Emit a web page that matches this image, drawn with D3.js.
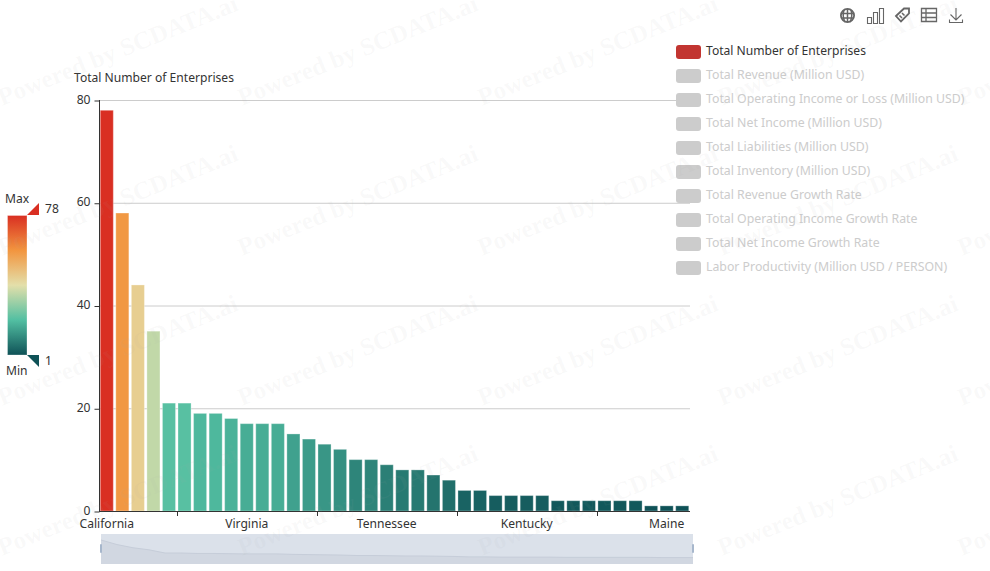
<!DOCTYPE html>
<html>
<head>
<meta charset="utf-8">
<script src="https://cdn.jsdelivr.net/npm/d3@7"></script>
<style>
  body { margin: 0; background: #fff; }
  text { font-family: "Noto Sans", sans-serif; }
</style>
</head>
<body>
<div id="chart"></div>
<script>
// valores
const barValues = [78, 58, 44, 35, 21, 21, 19, 19, 18, 17, 17, 17, 15, 14, 13, 12, 10, 10, 9, 8, 8, 7, 6, 4, 4, 3, 3, 3, 3, 2, 2, 2, 2, 2, 2, 1, 1, 1];
const labelIndexes = [0, 9, 18, 27, 36];
const labelNames = ["California", "Virginia", "Tennessee", "Kentucky", "Maine"];
const tickIndexes = [5, 14, 23, 32];
const yTicks = [0, 20, 40, 60, 80];
const legendNames = [
  "Total Number of Enterprises",
  "Total Revenue (Million USD)",
  "Total Operating Income or Loss (Million USD)",
  "Total Net Income (Million USD)",
  "Total Liabilities (Million USD)",
  "Total Inventory (Million USD)",
  "Total Revenue Growth Rate",
  "Total Operating Income Growth Rate",
  "Total Net Income Growth Rate",
  "Labor Productivity (Million USD / PERSON)",
];
const rampStops = [0, 0.25, 0.5, 0.75, 1];
const rampColors = ["#0f5257", "#52bfa2", "#e3dfaa", "#f2953f", "#d92f22"];

const width = 990;
const height = 571;
const fontSize = 12.1;
const legendFontSize = 12.3;

const svg = d3
  .select("#chart")
  .append("svg")
  .attr("width", width)
  .attr("height", height)
  .style("display", "block");

const defs = svg.append("defs");

// Escalas
const x = d3
  .scaleBand()
  .domain(d3.range(barValues.length))
  .range([99, 690])
  .paddingInner(0.16)
  .paddingOuter(0.08);
const y = d3.scaleLinear().domain([0, 80]).range([511, 100]);
const color = d3
  .scaleLinear()
  .domain(rampStops.map((s) => 1 + s * 77))
  .range(rampColors);

// Grade
svg
  .append("g")
  .selectAll("line")
  .data(yTicks.slice(1))
  .join("line")
  .attr("x1", 99)
  .attr("x2", 690)
  .attr("y1", (d) => y(d) + 0.5)
  .attr("y2", (d) => y(d) + 0.5)
  .attr("stroke", "#ccc");

// Barras
svg
  .append("g")
  .selectAll("rect")
  .data(barValues)
  .join("rect")
  .attr("x", (d, i) => x(i))
  .attr("y", (d) => y(d))
  .attr("width", x.bandwidth())
  .attr("height", (d) => y(0) - y(d))
  .attr("fill", (d) => color(d))
  .attr("stroke", "#fff")
  .attr("stroke-opacity", 0.3);

// Eixos
const step = x.step();
const yAxis = d3.axisLeft(y).tickValues(yTicks).tickSize(5).tickPadding(4);
const gy = svg.append("g").attr("transform", "translate(99.5,0.5)").call(yAxis);
gy.select(".domain").attr("stroke", "#333").attr("d", "M0,99.5V511");
gy.selectAll("line").attr("stroke", "#333");
gy.selectAll("text")
  .attr("fill", "#333")
  .attr("font-size", fontSize)
  .attr("dy", "0.22em")
  .style("font-family", '"Noto Sans", sans-serif');

svg
  .append("line")
  .attr("x1", 99)
  .attr("x2", 690)
  .attr("y1", 511.5)
  .attr("y2", 511.5)
  .attr("stroke", "#333");

svg
  .append("g")
  .selectAll("line")
  .data(tickIndexes)
  .join("line")
  .attr("x1", (d) => Math.round(99 + d * step) + 0.5)
  .attr("x2", (d) => Math.round(99 + d * step) + 0.5)
  .attr("y1", 511)
  .attr("y2", 516)
  .attr("stroke", "#333");

svg
  .append("g")
  .selectAll("text")
  .data(labelIndexes)
  .join("text")
  .attr("x", (d) => x(d) + x.bandwidth() / 2)
  .attr("y", 528)
  .attr("text-anchor", "middle")
  .attr("font-size", fontSize)
  .attr("fill", "#333")
  .text((d, i) => labelNames[i]);

svg
  .append("text")
  .attr("x", 74)
  .attr("y", 82)
  .attr("font-size", fontSize)
  .attr("fill", "#333")
  .text(legendNames[0]);

// Legenda
const legend = svg
  .append("g")
  .selectAll("g")
  .data(legendNames)
  .join("g")
  .attr("transform", (d, i) => `translate(676,${45 + i * 24})`);
legend
  .append("rect")
  .attr("width", 25)
  .attr("height", 14)
  .attr("rx", 3)
  .attr("fill", (d, i) => (i === 0 ? "#c23531" : "#ccc"));
legend
  .append("text")
  .attr("x", 30)
  .attr("y", 10)
  .attr("font-size", (d, i) => (i === 0 ? fontSize : legendFontSize))
  .attr("fill", (d, i) => (i === 0 ? "#333" : "#ccc"))
  .text((d) => d);

// Mapa visual
const grad = defs
  .append("linearGradient")
  .attr("id", "ramp")
  .attr("x1", 0)
  .attr("y1", 1)
  .attr("x2", 0)
  .attr("y2", 0);
rampStops.forEach((s, i) => {
  grad.append("stop").attr("offset", s).attr("stop-color", rampColors[i]);
});
svg
  .append("rect")
  .attr("x", 7.5)
  .attr("y", 215.5)
  .attr("width", 19.5)
  .attr("height", 139.5)
  .attr("fill", "url(#ramp)")
  .attr("stroke", "#fff")
  .attr("stroke-opacity", 0.3);
svg.append("path").attr("d", "M27,215H39V203Z").attr("fill", rampColors[4]);
svg.append("path").attr("d", "M27,355H39V367Z").attr("fill", rampColors[0]);
[
  ["Max", 5, 203, "#333"],
  ["Min", 6, 375, "#333"],
  ["78", 45, 213, "#333"],
  ["1", 45, 365, "#333"],
].forEach(([t, tx, ty, c]) => {
  svg
    .append("text")
    .attr("x", tx)
    .attr("y", ty)
    .attr("font-size", fontSize)
    .attr("fill", c)
    .text(t);
});

// Barra de zoom com a sombra dos dados
svg
  .append("rect")
  .attr("x", 101)
  .attr("y", 534)
  .attr("width", 592)
  .attr("height", 30)
  .attr("fill", "#dbe1ea");
const sx = d3
  .scaleLinear()
  .domain([0, barValues.length - 1])
  .range([101, 693]);
const sy = d3.scaleLinear().domain([0, 78]).range([557.8, 540]);
svg
  .append("path")
  .datum(barValues)
  .attr(
    "d",
    d3
      .area()
      .x((d, i) => sx(i))
      .y0(564)
      .y1((d) => sy(d))
  )
  .attr("fill", "#d1d7e1");
svg
  .append("path")
  .datum(barValues)
  .attr(
    "d",
    d3
      .line()
      .x((d, i) => sx(i))
      .y((d) => sy(d))
  )
  .attr("fill", "none")
  .attr("stroke", "#c6cdd9");
svg
  .append("g")
  .selectAll("rect")
  .data([0, barValues.length - 1])
  .join("rect")
  .attr("x", (d) => sx(d) - 1)
  .attr("y", 544)
  .attr("width", 2)
  .attr("height", 9)
  .attr("rx", 1)
  .attr("fill", "#a7b7cc");

// Icones da barra de ferramentas
const icons = svg
  .append("g")
  .attr("fill", "none")
  .attr("stroke", "#666")
  .attr("stroke-width", 1.1);
const ic = icons.append("g").attr("transform", "translate(840,8)");
ic.append("circle").attr("cx", 7.5).attr("cy", 7.5).attr("r", 6.6).attr("stroke-width", 1.8);
ic.append("path")
  .attr("d", "M1,5.5H14M1,10H14M7.5,1V14M4,2Q2,8 5,14M11,2Q13,8 10,14")
  .attr("stroke-width", 1.5);
const ib = icons.append("g").attr("transform", "translate(867,8)");
ib.append("path").attr("d", "M0.5,9.5h4v6h-4zM6.5,4.5h4v11h-4zM12.5,0.5h4v15h-4z");
const it = icons.append("g").attr("transform", "translate(895,7)");
it.append("path").attr("d", "M1,9L9,1.5H14V6.5L6,14.5Z").attr("stroke-width", 1.8);
it.append("path").attr("d", "M4.5,8.5l2.5,2.5M7,6l2.5,2.5").attr("stroke-width", 1.5);
const il = icons.append("g").attr("transform", "translate(921,8)");
il.append("path")
  .attr("d", "M0.5,0.5h15v13h-15zM0.5,5h15M0.5,9.5h15M5,0.5v13")
  .attr("stroke-width", 1.3);
const id = icons.append("g").attr("transform", "translate(949,8)");
id.append("path").attr("d", "M7,0V12M1.5,6.5L7,12L12.5,6.5M0.5,11.5V14.5H13.5V11.5");

// Marca d'agua repetida, por cima de tudo
const wmRows = [106, 256, 406, 556];
const wmCols = [2, 242, 482, 722, 962];
wmRows.forEach((wy) => {
  wmCols.forEach((wx) => {
    svg
      .append("text")
      .attr("transform", `translate(${wx},${wy}) rotate(-22)`)
      .attr("font-size", 25)
      .attr("font-weight", "bold")
      .style("font-family", '"Liberation Serif", serif')
      .attr("fill", "#aaa")
      .attr("fill-opacity", 0.07)
      .text("Powered by SCDATA.ai");
  });
});
</script>
</body>
</html>
